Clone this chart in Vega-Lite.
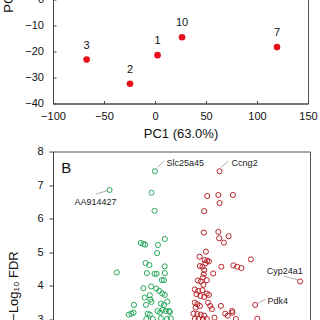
{
  "$schema": "https://vega.github.io/schema/vega-lite/v6.json",
  "padding": {"top": -111.5, "left": 1, "right": 0, "bottom": 0},
  "background": "white",
  "config": {
    "font": "Liberation Sans",
    "view": {"stroke": "#555555", "strokeWidth": 1},
    "axis": {
      "grid": false,
      "labelFont": "Liberation Sans",
      "labelFontSize": 11,
      "labelColor": "#111111",
      "titleFont": "Liberation Sans",
      "titleFontSize": 13,
      "titleFontWeight": "normal",
      "titleColor": "#111111",
      "domainColor": "#444444",
      "tickColor": "#444444",
      "labelFlush": false,
      "labelOverlap": false
    }
  },
  "spacing": 48,
  "bounds": "flush",
  "vconcat": [
    {
      "width": 255,
      "height": 208,
      "data": {"values": [
        {"sample": "3", "pc1": -67, "pc2": -23.1},
        {"sample": "2", "pc1": -24.5, "pc2": -32.4},
        {"sample": "1", "pc1": 2.5, "pc2": -21.4},
        {"sample": "10", "pc1": 26.5, "pc2": -14.5},
        {"sample": "7", "pc1": 119.6, "pc2": -18.3}
      ]},
      "encoding": {
        "x": {"field": "pc1", "type": "quantitative", "scale": {"domain": [-100, 150], "nice": false},
              "axis": {"title": "PC1 (63.0%)", "values": [-100, -50, 0, 50, 100, 150], "tickSize": -3, "labelPadding": 10, "titlePadding": 6}},
        "y": {"field": "pc2", "type": "quantitative", "scale": {"domain": [-40, 40], "nice": false},
              "axis": {"title": "PC2", "values": [-40, -30, -20, -10, 0, 10, 20, 30, 40], "tickSize": -3, "labelPadding": 12.5, "titlePadding": 9.5}}
      },
      "layer": [
        {"mark": {"type": "circle", "size": 44, "color": "#e8101a", "opacity": 1}},
        {"mark": {"type": "text", "dy": -14, "fontSize": 11, "color": "#111111"}, "encoding": {"text": {"field": "sample"}}}
      ]
    },
    {
      "width": 257,
      "height": 268,
      "encoding": {
        "x": {"type": "quantitative", "scale": {"domain": [-3, 3], "nice": false},
              "axis": {"title": "Log2 fold change", "values": [-3, -2, -1, 0, 1, 2, 3], "tickSize": 4, "labelPadding": 3}},
        "y": {"type": "quantitative", "scale": {"domain": [0, 8], "nice": false},
              "axis": {"title": "−Log₁₀ FDR", "values": [0, 1, 2, 3, 4, 5, 6, 7, 8], "tickSize": 4, "labelPadding": 6, "titlePadding": 16}}
      },
      "layer": [
        {
          "data": {"values": [
            {"g": "down", "fc": -0.62, "fdr": 7.41},
            {"g": "down", "fc": -1.68, "fdr": 6.85},
            {"g": "down", "fc": -0.70, "fdr": 6.77},
            {"g": "down", "fc": -0.63, "fdr": 6.23},
            {"g": "down", "fc": -0.95, "fdr": 5.27},
            {"g": "down", "fc": -0.89, "fdr": 5.24},
            {"g": "down", "fc": -0.85, "fdr": 5.22},
            {"g": "down", "fc": -0.55, "fdr": 5.21},
            {"g": "down", "fc": -0.39, "fdr": 5.39},
            {"g": "down", "fc": -0.57, "fdr": 4.97},
            {"g": "down", "fc": -1.51, "fdr": 4.39},
            {"g": "down", "fc": -0.84, "fdr": 4.67},
            {"g": "down", "fc": -0.75, "fdr": 4.61},
            {"g": "down", "fc": -0.39, "fdr": 4.57},
            {"g": "down", "fc": -0.81, "fdr": 4.37},
            {"g": "down", "fc": -0.63, "fdr": 4.35},
            {"g": "down", "fc": -0.58, "fdr": 4.35},
            {"g": "down", "fc": -0.39, "fdr": 4.37},
            {"g": "down", "fc": -0.46, "fdr": 4.16},
            {"g": "down", "fc": -0.41, "fdr": 4.16},
            {"g": "down", "fc": -0.89, "fdr": 3.92},
            {"g": "down", "fc": -0.71, "fdr": 3.97},
            {"g": "down", "fc": -0.59, "fdr": 3.91},
            {"g": "down", "fc": -0.52, "fdr": 3.84},
            {"g": "down", "fc": -0.45, "fdr": 3.76},
            {"g": "down", "fc": -0.39, "fdr": 3.72},
            {"g": "down", "fc": -0.74, "fdr": 3.71},
            {"g": "down", "fc": -0.86, "fdr": 3.64},
            {"g": "down", "fc": -0.73, "fdr": 3.58},
            {"g": "down", "fc": -0.70, "fdr": 3.51},
            {"g": "down", "fc": -1.11, "fdr": 3.42},
            {"g": "down", "fc": -0.83, "fdr": 3.42},
            {"g": "down", "fc": -0.48, "fdr": 3.46},
            {"g": "down", "fc": -0.41, "fdr": 3.42},
            {"g": "down", "fc": -0.33, "fdr": 3.52},
            {"g": "down", "fc": -0.29, "fdr": 3.24},
            {"g": "down", "fc": -1.23, "fdr": 3.13},
            {"g": "down", "fc": -1.17, "fdr": 3.16},
            {"g": "down", "fc": -1.12, "fdr": 3.19},
            {"g": "down", "fc": -0.79, "fdr": 3.16},
            {"g": "down", "fc": -0.74, "fdr": 3.13},
            {"g": "down", "fc": -0.56, "fdr": 3.24},
            {"g": "down", "fc": -0.50, "fdr": 3.19},
            {"g": "down", "fc": -0.44, "fdr": 3.27},
            {"g": "down", "fc": -0.37, "fdr": 3.24},
            {"g": "down", "fc": -0.27, "fdr": 3.21},
            {"g": "down", "fc": -0.82, "fdr": 3.0},
            {"g": "down", "fc": -0.67, "fdr": 3.0},
            {"g": "down", "fc": -0.48, "fdr": 3.02},
            {"g": "down", "fc": -0.34, "fdr": 3.0},
            {"g": "down", "fc": -0.25, "fdr": 3.02},
            {"g": "down", "fc": -0.60, "fdr": 2.85},
            {"g": "down", "fc": -0.42, "fdr": 2.8},
            {"g": "down", "fc": -0.95, "fdr": 2.7},
            {"g": "up", "fc": 0.89, "fdr": 7.41},
            {"g": "up", "fc": 0.60, "fdr": 6.67},
            {"g": "up", "fc": 0.86, "fdr": 6.70},
            {"g": "up", "fc": 1.20, "fdr": 6.70},
            {"g": "up", "fc": 0.89, "fdr": 6.46},
            {"g": "up", "fc": 0.53, "fdr": 6.22},
            {"g": "up", "fc": 0.52, "fdr": 5.58},
            {"g": "up", "fc": 0.86, "fdr": 5.60},
            {"g": "up", "fc": 1.10, "fdr": 5.47},
            {"g": "up", "fc": 0.88, "fdr": 5.41},
            {"g": "up", "fc": 0.99, "fdr": 5.28},
            {"g": "up", "fc": 0.57, "fdr": 5.01},
            {"g": "up", "fc": 0.42, "fdr": 4.86},
            {"g": "up", "fc": 0.54, "fdr": 4.76},
            {"g": "up", "fc": 0.60, "fdr": 4.74},
            {"g": "up", "fc": 0.64, "fdr": 4.72},
            {"g": "up", "fc": 1.62, "fdr": 4.78},
            {"g": "up", "fc": 0.43, "fdr": 4.58},
            {"g": "up", "fc": 0.49, "fdr": 4.56},
            {"g": "up", "fc": 0.56, "fdr": 4.66},
            {"g": "up", "fc": 0.93, "fdr": 4.56},
            {"g": "up", "fc": 1.21, "fdr": 4.60},
            {"g": "up", "fc": 1.30, "fdr": 4.56},
            {"g": "up", "fc": 1.40, "fdr": 4.52},
            {"g": "up", "fc": 0.74, "fdr": 4.36},
            {"g": "up", "fc": 0.53, "fdr": 4.46},
            {"g": "up", "fc": 0.52, "fdr": 4.34},
            {"g": "up", "fc": 0.50, "fdr": 4.24},
            {"g": "up", "fc": 0.38, "fdr": 4.15},
            {"g": "up", "fc": 0.45, "fdr": 4.12},
            {"g": "up", "fc": 0.59, "fdr": 4.16},
            {"g": "up", "fc": 0.51, "fdr": 4.02},
            {"g": "up", "fc": 2.77, "fdr": 4.12},
            {"g": "up", "fc": 0.31, "fdr": 3.88},
            {"g": "up", "fc": 0.39, "fdr": 3.84},
            {"g": "up", "fc": 0.49, "fdr": 3.86},
            {"g": "up", "fc": 0.59, "fdr": 3.76},
            {"g": "up", "fc": 0.64, "fdr": 3.72},
            {"g": "up", "fc": 0.44, "fdr": 3.69},
            {"g": "up", "fc": 0.35, "fdr": 3.74},
            {"g": "up", "fc": 0.53, "fdr": 3.66},
            {"g": "up", "fc": 0.31, "fdr": 3.49},
            {"g": "up", "fc": 0.37, "fdr": 3.44},
            {"g": "up", "fc": 0.43, "fdr": 3.39},
            {"g": "up", "fc": 0.33, "fdr": 3.34},
            {"g": "up", "fc": 0.62, "fdr": 3.49},
            {"g": "up", "fc": 0.67, "fdr": 3.39},
            {"g": "up", "fc": 0.71, "fdr": 3.30},
            {"g": "up", "fc": 1.72, "fdr": 3.42},
            {"g": "up", "fc": 0.92, "fdr": 3.39},
            {"g": "up", "fc": 1.18, "fdr": 3.24},
            {"g": "up", "fc": 1.19, "fdr": 3.19},
            {"g": "up", "fc": 1.02, "fdr": 3.16},
            {"g": "up", "fc": 1.08, "fdr": 3.10},
            {"g": "up", "fc": 0.77, "fdr": 3.04},
            {"g": "up", "fc": 0.28, "fdr": 3.16},
            {"g": "up", "fc": 0.37, "fdr": 3.15},
            {"g": "up", "fc": 0.45, "fdr": 3.13},
            {"g": "up", "fc": 0.53, "fdr": 3.10},
            {"g": "up", "fc": 1.77, "fdr": 3.01},
            {"g": "up", "fc": 1.27, "fdr": 3.00},
            {"g": "up", "fc": 0.31, "fdr": 3.0},
            {"g": "up", "fc": 0.40, "fdr": 3.0},
            {"g": "up", "fc": 0.50, "fdr": 3.0},
            {"g": "up", "fc": 0.59, "fdr": 3.0},
            {"g": "up", "fc": 0.36, "fdr": 2.85},
            {"g": "up", "fc": 0.48, "fdr": 2.8},
            {"g": "up", "fc": 0.85, "fdr": 2.75}
          ]},
          "mark": {"type": "point", "filled": false, "size": 26, "strokeWidth": 1, "opacity": 1},
          "encoding": {
            "x": {"field": "fc"},
            "y": {"field": "fdr"},
            "color": {"field": "g", "type": "nominal", "scale": {"domain": ["down", "up"], "range": ["#27a85a", "#b8232a"]}, "legend": null}
          }
        },
        {
          "data": {"values": [
            {"gene": "Slc25a45", "x1": -0.56, "y1": 7.52, "x2": -0.41, "y2": 7.72, "lx": -0.35, "ly": 7.67},
            {"gene": "Ccng2", "x1": 0.92, "y1": 7.52, "x2": 1.10, "y2": 7.72, "lx": 1.17, "ly": 7.67},
            {"gene": "AA914427", "x1": -1.73, "y1": 6.83, "x2": -2.00, "y2": 6.73, "lx": -2.50, "ly": 6.49},
            {"gene": "Cyp24a1", "x1": 2.71, "y1": 4.17, "x2": 2.39, "y2": 4.28, "lx": 1.99, "ly": 4.44},
            {"gene": "Pdk4", "x1": 1.77, "y1": 3.46, "x2": 1.97, "y2": 3.59, "lx": 2.01, "ly": 3.54}
          ]},
          "layer": [
            {"mark": {"type": "rule", "color": "#999999", "strokeWidth": 0.8},
             "encoding": {"x": {"field": "x1"}, "y": {"field": "y1"},
                          "x2": {"field": "x2"}, "y2": {"field": "y2"}}},
            {"mark": {"type": "text", "align": "left", "baseline": "middle", "fontSize": 9, "color": "#222222"},
             "encoding": {"x": {"field": "lx"}, "y": {"field": "ly"},
                          "text": {"field": "gene"}}}
          ]
        },
        {
          "data": {"values": [{"panel": "B", "px": -2.69, "py": 7.5}]},
          "mark": {"type": "text", "fontSize": 15, "color": "#111111", "align": "center", "baseline": "middle"},
          "encoding": {"x": {"field": "px"}, "y": {"field": "py"}, "text": {"field": "panel"}}
        }
      ]
    }
  ]
}
